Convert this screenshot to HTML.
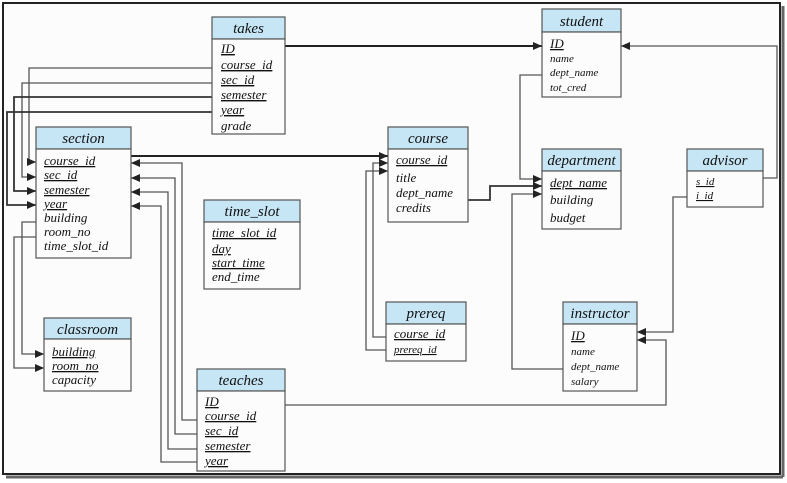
<!DOCTYPE html>
<html><head><meta charset="utf-8"><style>
html,body{margin:0;padding:0;background:#fff;}
svg{display:block;}
text{font-family:"Liberation Serif",serif;font-style:italic;fill:#111;}
.h{font-size:15px;}
.r{font-size:13px;}
.s{font-size:11px;}
</style></head><body>
<svg width="787" height="483" viewBox="0 0 787 483" xmlns="http://www.w3.org/2000/svg">
<defs>
<marker id="a" markerWidth="9" markerHeight="8" refX="9" refY="4" orient="auto" markerUnits="userSpaceOnUse"><path d="M0,0 L9,4 L0,8 z" fill="#222"/></marker>
</defs>
<rect x="0" y="0" width="787" height="483" fill="#fff"/>
<rect x="3" y="3" width="777" height="471" fill="#fcfcfc" stroke="#222" stroke-width="2"/>
<line x1="783" y1="6" x2="783" y2="477" stroke="#666" stroke-width="3"/>
<line x1="6" y1="477" x2="783" y2="477" stroke="#666" stroke-width="3"/>

<g fill="none" stroke="#555" stroke-width="1.3">
<!-- takes -> section -->
<polyline points="212,68 29,68 29,162 36,162" marker-end="url(#a)"/>
<polyline points="212,83 22,83 22,177 36,177" marker-end="url(#a)"/>
<polyline points="212,97 14,97 14,191 36,191" marker-end="url(#a)" stroke-width="1.8" stroke="#333"/>
<polyline points="212,112 7,112 7,205 36,205" marker-end="url(#a)" stroke-width="1.8" stroke="#333"/>
<!-- teaches -> section -->
<polyline points="197,420 182,420 182,163 131,163" marker-end="url(#a)"/>
<polyline points="197,434 175,434 175,178 131,178" marker-end="url(#a)"/>
<polyline points="197,449 168,449 168,192 131,192" marker-end="url(#a)"/>
<polyline points="197,462 161,462 161,206 131,206" marker-end="url(#a)"/>
<!-- section -> classroom -->
<polyline points="36,222 22,222 22,354 44,354" marker-end="url(#a)"/>
<polyline points="36,237 14,237 14,368 44,368" marker-end="url(#a)"/>
<!-- prereq -> course -->
<polyline points="386,337 373,337 373,163 388,163" marker-end="url(#a)"/>
<polyline points="386,350 366,350 366,171 388,171" marker-end="url(#a)"/>
<!-- dept_name -> department -->
<polyline points="542,75 520,75 520,179 542,179" marker-end="url(#a)"/>
<polyline points="468,200 490,200 490,186 542,186" marker-end="url(#a)" stroke-width="1.8" stroke="#333"/>
<polyline points="563,369 512,369 512,194 542,194" marker-end="url(#a)"/>
<!-- advisor -->
<polyline points="763,178 777,178 777,46 621,46" marker-end="url(#a)"/>
<polyline points="687,197 673,197 673,332 637,332" marker-end="url(#a)"/>
<polyline points="285,405 666,405 666,340 637,340" marker-end="url(#a)"/>
</g>
<g fill="none" stroke="#222" stroke-width="2">
<polyline points="285,46 542,46" marker-end="url(#a)"/>
<polyline points="131,156 388,156" marker-end="url(#a)"/>
</g>

<g stroke="#555" stroke-width="1.2">
<!-- takes -->
<rect x="212" y="17" width="73" height="22" fill="#c6e6f6"/><rect x="212" y="39" width="73" height="95" fill="#fcfcfc"/>
<!-- section -->
<rect x="36" y="127" width="95" height="22" fill="#c6e6f6"/><rect x="36" y="149" width="95" height="109" fill="#fcfcfc"/>
<!-- time_slot -->
<rect x="204" y="200" width="96" height="22" fill="#c6e6f6"/><rect x="204" y="222" width="96" height="67" fill="#fcfcfc"/>
<!-- course -->
<rect x="388" y="127" width="80" height="22" fill="#c6e6f6"/><rect x="388" y="149" width="80" height="73" fill="#fcfcfc"/>
<!-- student -->
<rect x="542" y="9" width="79" height="23" fill="#c6e6f6"/><rect x="542" y="32" width="79" height="65" fill="#fcfcfc"/>
<!-- department -->
<rect x="542" y="149" width="79" height="22" fill="#c6e6f6"/><rect x="542" y="171" width="79" height="58" fill="#fcfcfc"/>
<!-- advisor -->
<rect x="687" y="149" width="76" height="22" fill="#c6e6f6"/><rect x="687" y="171" width="76" height="36" fill="#fcfcfc"/>
<!-- prereq -->
<rect x="386" y="302" width="80" height="22" fill="#c6e6f6"/><rect x="386" y="324" width="80" height="37" fill="#fcfcfc"/>
<!-- instructor -->
<rect x="563" y="302" width="74" height="22" fill="#c6e6f6"/><rect x="563" y="324" width="74" height="67" fill="#fcfcfc"/>
<!-- classroom -->
<rect x="44" y="318" width="87" height="21" fill="#c6e6f6"/><rect x="44" y="339" width="87" height="52" fill="#fcfcfc"/>
<!-- teaches -->
<rect x="197" y="369" width="88" height="22" fill="#c6e6f6"/><rect x="197" y="391" width="88" height="80" fill="#fcfcfc"/>
</g>

<g text-anchor="middle" class="h">
<text x="248.5" y="33" class="h">takes</text>
<text x="83.5" y="143" class="h">section</text>
<text x="252" y="216" class="h">time_slot</text>
<text x="428" y="143" class="h">course</text>
<text x="581.5" y="26" class="h">student</text>
<text x="581.5" y="165" class="h">department</text>
<text x="725" y="165" class="h">advisor</text>
<text x="426" y="318" class="h">prereq</text>
<text x="600" y="318" class="h">instructor</text>
<text x="87.5" y="334" class="h">classroom</text>
<text x="241" y="385" class="h">teaches</text>
</g>

<g class="r" text-decoration="underline">
<text x="221" y="53" class="r" text-decoration="underline">ID</text>
<text x="221" y="69" class="r" text-decoration="underline">course_id</text>
<text x="221" y="84" class="r" text-decoration="underline">sec_id</text>
<text x="221" y="99" class="r" text-decoration="underline">semester</text>
<text x="221" y="114" class="r" text-decoration="underline">year</text>
</g>
<text x="221" y="130" class="r">grade</text>

<text x="44" y="165" class="r" text-decoration="underline">course_id</text>
<text x="44" y="179" class="r" text-decoration="underline">sec_id</text>
<text x="44" y="194" class="r" text-decoration="underline">semester</text>
<text x="44" y="208" class="r" text-decoration="underline">year</text>
<text x="44" y="222" class="r">building</text>
<text x="44" y="236" class="r">room_no</text>
<text x="44" y="250" class="r">time_slot_id</text>

<text x="212" y="237" class="r" text-decoration="underline">time_slot_id</text>
<text x="212" y="253" class="r" text-decoration="underline">day</text>
<text x="212" y="267" class="r" text-decoration="underline">start_time</text>
<text x="212" y="281" class="r">end_time</text>

<text x="396" y="164" class="r" text-decoration="underline">course_id</text>
<text x="396" y="182" class="r">title</text>
<text x="396" y="197" class="r">dept_name</text>
<text x="396" y="212" class="r">credits</text>

<text x="550" y="48" class="r" text-decoration="underline">ID</text>
<text x="550" y="62" class="s">name</text>
<text x="550" y="76" class="s">dept_name</text>
<text x="550" y="91" class="s">tot_cred</text>

<text x="550" y="187" class="r" text-decoration="underline">dept_name</text>
<text x="550" y="204" class="r">building</text>
<text x="550" y="222" class="r">budget</text>

<text x="696" y="185" class="s" text-decoration="underline">s_id</text>
<text x="696" y="199" class="s" text-decoration="underline">i_id</text>

<text x="394" y="338" class="r" text-decoration="underline">course_id</text>
<text x="394" y="353" class="s" text-decoration="underline">prereq_id</text>

<text x="571" y="340" class="r" text-decoration="underline">ID</text>
<text x="571" y="355" class="s">name</text>
<text x="571" y="370" class="s">dept_name</text>
<text x="571" y="385" class="s">salary</text>

<text x="52" y="356" class="r" text-decoration="underline">building</text>
<text x="52" y="370" class="r" text-decoration="underline">room_no</text>
<text x="52" y="384" class="r">capacity</text>

<text x="205" y="406" class="r" text-decoration="underline">ID</text>
<text x="205" y="420" class="r" text-decoration="underline">course_id</text>
<text x="205" y="435" class="r" text-decoration="underline">sec_id</text>
<text x="205" y="450" class="r" text-decoration="underline">semester</text>
<text x="205" y="465" class="r" text-decoration="underline">year</text>
</svg>
</body></html>
